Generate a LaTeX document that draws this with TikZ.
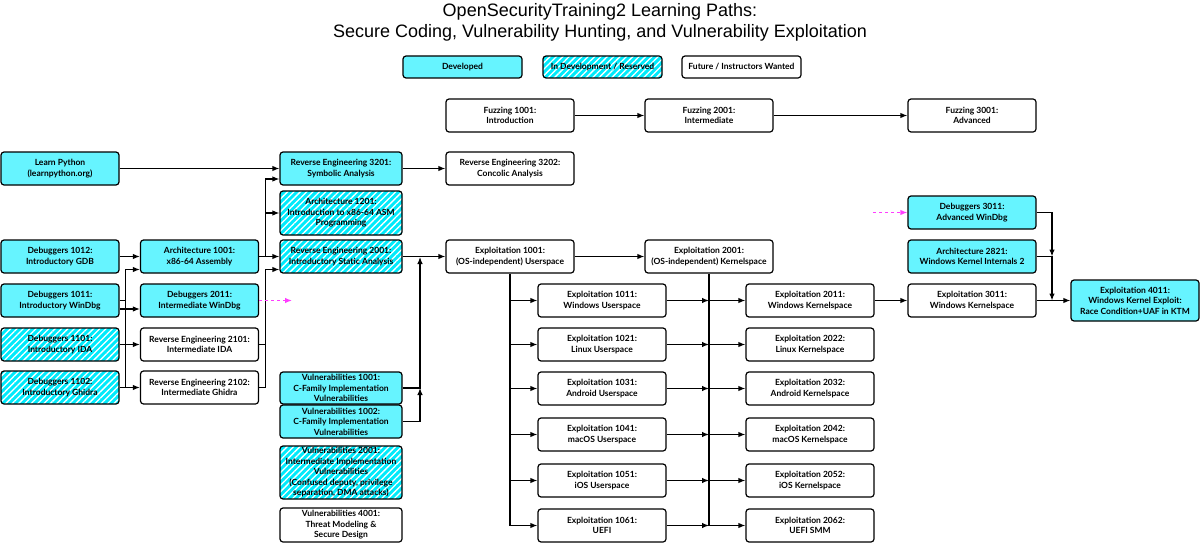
\documentclass[tikz,border=0pt]{standalone}
\usepackage{fontspec}
\setmainfont{Lato}
\newfontfamily\titlefont{Liberation Sans}
\usetikzlibrary{arrows.meta,patterns.meta}

\definecolor{devcyan}{HTML}{66F4FF}
\definecolor{wipcyan}{HTML}{00EAFB}
\definecolor{dbgpink}{HTML}{FF3DFF}

\begin{document}
\begin{tikzpicture}[x=1pt, y=-1pt, line width=1.2pt,
    >={Latex[length=7pt,width=5.5pt]},
    box/.style={draw, rounded corners=3pt, align=center, inner sep=0pt,
        minimum height=33pt, font=\fontsize{8.5}{10.5}\selectfont\bfseries},
    dev/.style={box, fill=devcyan},
    wip/.style={box, preaction={fill=wipcyan},
        pattern={Lines[angle=45,distance=4.5pt,line width=1.3pt]}, pattern color=white},
    todo/.style={box, fill=white},
    colA/.style={minimum width=118pt},
    colB/.style={minimum width=122pt},
    colE/.style={minimum width=128pt},
    dbgnext/.style={->, dbgpink, dash pattern=on 3pt off 3pt}]
    \useasboundingbox (0,0) rectangle (1200,543);

    \node[font=\titlefont\fontsize{18}{21}\selectfont, align=center] (title) at (600,22.5)
        {OpenSecurityTraining2 Learning Paths:\\Secure Coding, Vulnerability Hunting, and Vulnerability Exploitation};

    % legend
    \node[dev, minimum width=119pt, minimum height=22pt] (lgdev) at (462.5,67) {Developed};
    \node[wip, minimum width=119pt, minimum height=22pt] (lgwip) at (602.5,67) {In Development / Reserved};
    \node[todo, minimum width=119pt, minimum height=22pt] (lgfut) at (741.5,67) {Future / Instructors Wanted};

    % first column
    \node[dev, colA] (py) at (60,168.5) {Learn Python\\(learnpython.org)};
    \node[dev, colA] (d1012) at (60,256.5) {Debuggers 1012:\\Introductory GDB};
    \node[dev, colA] (d1011) at (60,300.5) {Debuggers 1011:\\Introductory WinDbg};
    \node[wip, colA] (d1101) at (60,344.5) {Debuggers 1101:\\Introductory IDA};
    \node[wip, colA] (d1102) at (60,387.5) {Debuggers 1102:\\Introductory Ghidra};

    % second column
    \node[dev, colA] (a1001) at (199.5,256.5) {Architecture 1001:\\x86-64 Assembly};
    \node[dev, colA] (d2011) at (199.5,300.5) {Debuggers 2011:\\Intermediate WinDbg};
    \node[todo, colA] (re2101) at (199.5,344.5) {Reverse Engineering 2101:\\Intermediate IDA};
    \node[todo, colA] (re2102) at (199.5,387.5) {Reverse Engineering 2102:\\Intermediate Ghidra};

    % third column
    \node[dev, colB] (re3201) at (341,168.5) {Reverse Engineering 3201:\\Symbolic Analysis};
    \node[wip, colB, minimum height=44pt] (a1201) at (341,213) {Architecture 1201:\\Introduction to x86-64 ASM\\Programming};
    \node[wip, colB] (re2001) at (341,256.5) {Reverse Engineering 2001:\\Introductory Static Analysis};
    \node[dev, colB, minimum height=32pt] (v1001) at (341,388) {Vulnerabilities 1001:\\C-Family Implementation\\Vulnerabilities};
    \node[dev, colB] (v1002) at (341,421.5) {Vulnerabilities 1002:\\C-Family Implementation\\Vulnerabilities};
    \node[wip, colB, minimum height=53pt] (v2001) at (341,472.5) {Vulnerabilities 2001:\\Intermediate Implementation\\Vulnerabilities\\(Confused deputy, privilege\\separation, DMA attacks)};
    \node[todo, colB, minimum height=34pt] (v4001) at (341,525) {Vulnerabilities 4001:\\Threat Modeling \&\\Secure Design};

    % fuzzing and exploitation rows
    \node[todo, colE] (f1001) at (510,115.5) {Fuzzing 1001:\\Introduction};
    \node[todo, colE] (f2001) at (709,115.5) {Fuzzing 2001:\\Intermediate};
    \node[todo, colE] (f3001) at (972,115.5) {Fuzzing 3001:\\Advanced};
    \node[todo, colE] (re3202) at (510,168.5) {Reverse Engineering 3202:\\Concolic Analysis};
    \node[todo, colE] (e1001) at (510,256.5) {Exploitation 1001:\\(OS-independent) Userspace};
    \node[todo, colE] (e2001) at (709,256.5) {Exploitation 2001:\\(OS-independent) Kernelspace};

    \node[todo, colE] (e1011) at (602,300.5) {Exploitation 1011:\\Windows Userspace};
    \node[todo, colE] (e1021) at (602,344.5) {Exploitation 1021:\\Linux Userspace};
    \node[todo, colE] (e1031) at (602,388.5) {Exploitation 1031:\\Android Userspace};
    \node[todo, colE] (e1041) at (602,434.5) {Exploitation 1041:\\macOS Userspace};
    \node[todo, colE] (e1051) at (602,480.5) {Exploitation 1051:\\iOS Userspace};
    \node[todo, colE] (e1061) at (602,525.5) {Exploitation 1061:\\UEFI};

    \node[todo, colE] (e2011) at (810,300.5) {Exploitation 2011:\\Windows Kernelspace};
    \node[todo, colE] (e2022) at (810,344.5) {Exploitation 2022:\\Linux Kernelspace};
    \node[todo, colE] (e2032) at (810,388.5) {Exploitation 2032:\\Android Kernelspace};
    \node[todo, colE] (e2042) at (810,434.5) {Exploitation 2042:\\macOS Kernelspace};
    \node[todo, colE] (e2052) at (810,480.5) {Exploitation 2052:\\iOS Kernelspace};
    \node[todo, colE] (e2062) at (810,525.5) {Exploitation 2062:\\UEFI SMM};

    \node[dev, colE] (d3011) at (972,212.5) {Debuggers 3011:\\Advanced WinDbg};
    \node[dev, colE] (a2821) at (972,256.5) {Architecture 2821:\\Windows Kernel Internals 2};
    \node[todo, colE] (e3011) at (972,300.5) {Exploitation 3011:\\Windows Kernelspace};
    \node[dev, colE, minimum height=41pt] (e4011) at (1135,300.5) {Exploitation 4011:\\Windows Kernel Exploit:\\Race Condition+UAF in KTM};

    % left side arrows
    \draw[->] (py) -- (re3201);
    \draw[->] (d1012) -- (a1001);
    \draw[->] (d1102.east) -- ++(6,0) |- ([yshift=-13pt]a1001.west);
    \draw (d1011.east) -- ++(6,0);
    \draw[->] ([yshift=-8.5pt]d1011.east) -- ([yshift=-8.5pt]d2011.west);
    \draw[->] (d1101) -- (re2101);
    \draw[->] (d1102) -- (re2102);

    \draw[->] ([xshift=6pt]a1001.east) |- ([yshift=-10.5pt]re3201.west);
    \draw[->] ([xshift=6pt]a1001.east |- a1201.west) -- (a1201.west);
    \draw[->] (a1001) -- (re2001);
    \draw[->] (re2102.east) -- ++(6,0) |- ([yshift=-13pt]re2001.west);
    \draw (re2101.east) -- ++(6,0);

    \coordinate (dbgout) at (292,300.5);
    \draw[dbgnext] (d2011) -- (dbgout);
    \coordinate (dbgin) at (873,212.5);
    \draw[dbgnext] (dbgin) -- (d3011);

    % into exploitation
    \draw[->] (re3201) -- (re3202);
    \draw[->] (re2001) -- (e1001);
    \coordinate (jvul) at (420,388);
    \coordinate (jexp) at (420,257);
    \draw[->] (v1002.east) -| (jvul);
    \draw[->] (v1001.east) -| (jexp);

    \draw[->] (f1001) -- (f2001);
    \draw[->] (f2001) -- (f3001);
    \draw[->] (e1001) -- (e2001);

    \draw[->] (e1001.south) |- (e1061.west);
    \draw[->] (e1001.south |- e1011.west) -- (e1011.west);
    \draw[->] (e1001.south |- e1021.west) -- (e1021.west);
    \draw[->] (e1001.south |- e1031.west) -- (e1031.west);
    \draw[->] (e1001.south |- e1041.west) -- (e1041.west);
    \draw[->] (e1001.south |- e1051.west) -- (e1051.west);

    \draw[->] (e1011.east) -- (e1011.east -| e2001.south);
    \draw[->] (e1021.east) -- (e1021.east -| e2001.south);
    \draw[->] (e1031.east) -- (e1031.east -| e2001.south);
    \draw[->] (e1041.east) -- (e1041.east -| e2001.south);
    \draw[->] (e1051.east) -- (e1051.east -| e2001.south);
    \draw[->] (e1061.east) -- (e1061.east -| e2001.south);

    \draw[->] (e2001.south) |- (e2062.west);
    \draw[->] (e2001.south |- e2011.west) -- (e2011.west);
    \draw[->] (e2001.south |- e2022.west) -- (e2022.west);
    \draw[->] (e2001.south |- e2032.west) -- (e2032.west);
    \draw[->] (e2001.south |- e2042.west) -- (e2042.west);
    \draw[->] (e2001.south |- e2052.west) -- (e2052.west);

    % kernel exploit path
    \draw[->] (e2011) -- (e3011);
    \draw[->] (e3011) -- (e4011);
    \coordinate (jwin) at (1052,256.5);
    \coordinate (jktm) at (1052,300.5);
    \draw[->] (d3011.east) -| (jwin);
    \draw[->] (a2821.east) -| (jktm);
\end{tikzpicture}
\end{document}
